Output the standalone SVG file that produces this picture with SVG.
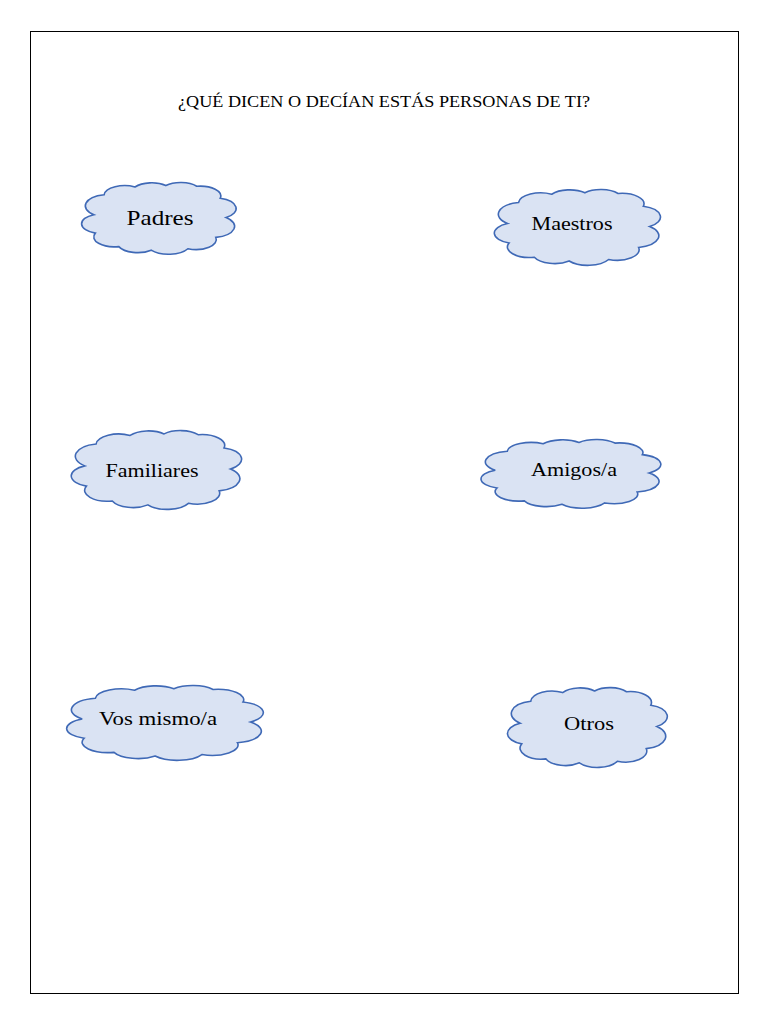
<svg xmlns="http://www.w3.org/2000/svg" xmlns:xlink="http://www.w3.org/1999/xlink" width="768" height="1024" viewBox="0 0 768 1024">
<style>
.cloud{fill:#dae3f3;stroke:#3f69b6;stroke-width:1.6;vector-effect:non-scaling-stroke}
text{font-family:"Liberation Serif","DejaVu Serif",serif;fill:#000}
.lbl{font-size:19.5px;text-anchor:middle}
.title{font-size:17px;text-anchor:middle}
</style>
<defs>
<symbol id="cloud" viewBox="0 0 100 100" preserveAspectRatio="none" overflow="visible">
<path class="cloud" d="M6,46 A16,16 0 0 1 13,18 A14,14 0 0 1 34,7 A14,14 0 0 1 55,5 A14,14 0 0 1 76,6 A14,14 0 0 1 92,23 A15,15 0 0 1 96,50 A16,16 0 0 1 89,78 A14,14 0 0 1 70,94 A15,15 0 0 1 45,96 A14,14 0 0 1 23,91 A14,14 0 0 1 7,72 A14,14 0 0 1 6,46 Z"/>
</symbol>
</defs>
<rect x="0" y="0" width="768" height="1024" fill="#fff"/>
<rect x="30.5" y="31.5" width="708" height="962" fill="none" stroke="#000" stroke-width="1"/>
<text class="title" x="384" y="107" textLength="412" lengthAdjust="spacingAndGlyphs">¿QUÉ DICEN O DECÍAN ESTÁS PERSONAS DE TI?</text>
<g id="padres">
<use xlink:href="#cloud" x="85" y="182" width="147" height="71"/>
<text class="lbl" x="160" y="225" style="font-size:22px" textLength="67" lengthAdjust="spacingAndGlyphs">Padres</text>
</g>
<g id="maestros">
<use xlink:href="#cloud" x="498" y="189" width="158" height="75"/>
<text class="lbl" x="572" y="230" textLength="81" lengthAdjust="spacingAndGlyphs">Maestros</text>
</g>
<g id="familiares">
<use xlink:href="#cloud" x="75" y="430" width="162" height="78"/>
<text class="lbl" x="152" y="477" textLength="93" lengthAdjust="spacingAndGlyphs">Familiares</text>
</g>
<g id="amigos">
<use xlink:href="#cloud" x="485" y="439" width="171" height="68"/>
<text class="lbl" x="574" y="476" textLength="86" lengthAdjust="spacingAndGlyphs">Amigos/a</text>
</g>
<g id="vos">
<use xlink:href="#cloud" x="71" y="685" width="187" height="74"/>
<text class="lbl" x="158" y="725" textLength="118" lengthAdjust="spacingAndGlyphs">Vos mismo/a</text>
</g>
<g id="otros">
<use xlink:href="#cloud" x="511" y="687" width="152" height="79"/>
<text class="lbl" x="589" y="730" textLength="50" lengthAdjust="spacingAndGlyphs">Otros</text>
</g>
<g id="connectors"/>
</svg>
